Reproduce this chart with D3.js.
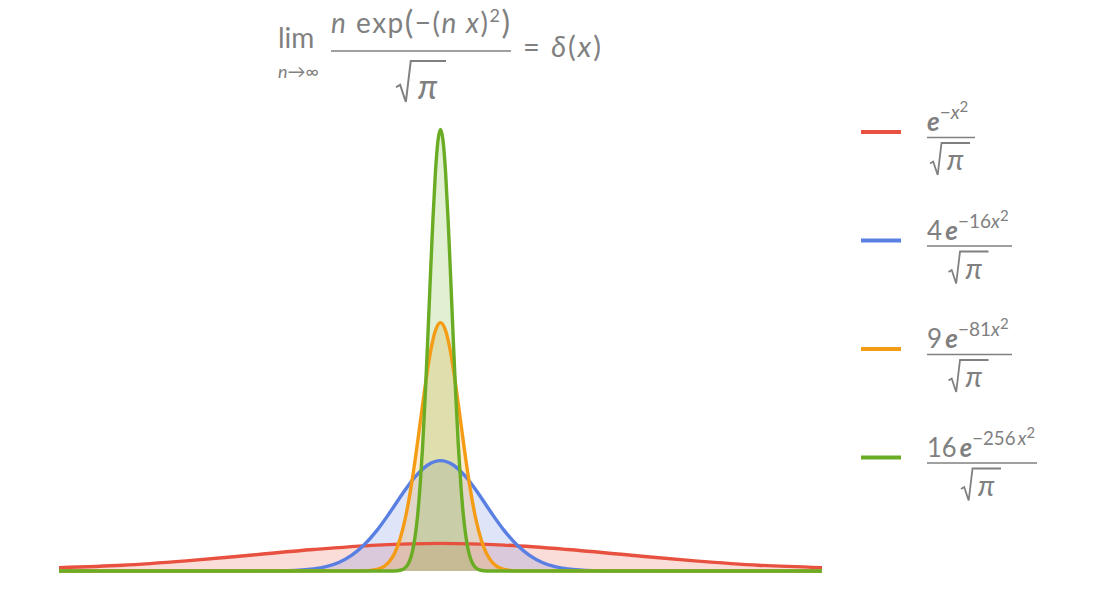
<!DOCTYPE html>
<html>
<head>
<meta charset="utf-8">
<script src="https://cdn.jsdelivr.net/npm/d3@7"></script>
<style>
  body { margin: 0; background: #fff; }
  text { font-family: Lato, "Noto Sans", sans-serif; fill: #808080; }
</style>
</head>
<body>
<svg id="chart" width="1100" height="600"></svg>
<script>
// values: n exp(-(n x)^2)/sqrt(pi) for n = 1, 4, 9, 16 (as labelled)
const xRed = [-1.5, -1.25, -1, -0.75, -0.5, -0.25, 0, 0.25, 0.5, 0.75, 1, 1.25, 1.5];
const yRed = [0.07, 0.118, 0.208, 0.321, 0.439, 0.53, 0.564, 0.53, 0.439, 0.321, 0.208, 0.118, 0.07];

const xBlue = [-1.5, -0.7, -0.6, -0.5, -0.45, -0.4, -0.35, -0.3, -0.25, -0.2, -0.15, -0.1, -0.05, 0,
  0.05, 0.1, 0.15, 0.2, 0.25, 0.3, 0.35, 0.4, 0.45, 0.5, 0.6, 0.7, 1.5];
const yBlue = [0, 0.001, 0.007, 0.041, 0.088, 0.174, 0.318, 0.535, 0.83, 1.19, 1.575, 1.923, 2.168, 2.257,
  2.168, 1.923, 1.575, 1.19, 0.83, 0.535, 0.318, 0.174, 0.088, 0.041, 0.007, 0.001, 0];

const xOrange = [-1.5, -0.3, -0.25, -0.22, -0.2, -0.18, -0.16, -0.14, -0.12, -0.1, -0.08, -0.06, -0.04, -0.02, 0,
  0.02, 0.04, 0.06, 0.08, 0.1, 0.12, 0.14, 0.16, 0.18, 0.2, 0.22, 0.25, 0.3, 1.5];
const yOrange = [0, 0.003, 0.032, 0.101, 0.199, 0.368, 0.638, 1.038, 1.582, 2.259, 3.024, 3.794, 4.46, 4.916, 5.078,
  4.916, 4.46, 3.794, 3.024, 2.259, 1.582, 1.038, 0.638, 0.368, 0.199, 0.101, 0.032, 0.003, 0];

const xGreen = [-1.5, -0.2, -0.17, -0.15, -0.14, -0.13, -0.12, -0.11, -0.1, -0.09, -0.08, -0.07, -0.06, -0.05, -0.04, -0.03, -0.02, -0.01, 0,
  0.01, 0.02, 0.03, 0.04, 0.05, 0.06, 0.07, 0.08, 0.09, 0.1, 0.11, 0.12, 0.13, 0.14, 0.15, 0.17, 0.2, 1.5];
const yGreen = [0, 0, 0.006, 0.028, 0.06, 0.119, 0.227, 0.408, 0.698, 1.135, 1.754, 2.575, 3.592, 4.76, 5.993, 7.169, 8.149, 8.799, 9.027,
  8.799, 8.149, 7.169, 5.993, 4.76, 3.592, 2.575, 1.754, 1.135, 0.698, 0.408, 0.227, 0.119, 0.06, 0.028, 0.006, 0, 0];

const colors = ["#e8513f", "#5a7fe3", "#f59c16", "#6aad24"];
const coefLabels = ["", "4", "9", "16"];
const expLabels = ["\u2212", "\u221216", "\u221281", "\u2212256\u2009"];

const series = [
  { x: xRed, y: yRed },
  { x: xBlue, y: yBlue },
  { x: xOrange, y: yOrange },
  { x: xGreen, y: yGreen }
];

const svg = d3.select("#chart");

const xScale = d3.scaleLinear().domain([-1.5, 1.5]).range([59, 822]);
const yScale = d3.scaleLinear().domain([0, d3.max(yGreen)]).range([571, 129.5]);

const area = d3.area()
  .x(d => xScale(d[0]))
  .y0(yScale(0))
  .y1(d => yScale(d[1]))
  .curve(d3.curveMonotoneX);

const line = d3.line()
  .x(d => xScale(d[0]))
  .y(d => yScale(d[1]))
  .curve(d3.curveMonotoneX);

const plot = svg.append("g");

// fillings to the axis first
series.forEach((s, i) => {
  const pts = s.x.map((x, j) => [x, s.y[j]]);
  plot.append("path")
    .attr("d", area(pts))
    .attr("fill", colors[i])
    .attr("fill-opacity", 0.2);
});

series.forEach((s, i) => {
  const pts = s.x.map((x, j) => [x, s.y[j]]);
  plot.append("path")
    .attr("d", line(pts))
    .attr("fill", "none")
    .attr("stroke", colors[i])
    .attr("stroke-width", 3.4)
    .attr("stroke-linejoin", "round");
});

// radical sign drawn as a path
function radical(g, left, top, bottom, right, sw) {
  const h = bottom - top;
  g.append("path")
    .attr("d", `M${left},${bottom - 0.36 * h} L${left + h * 0.1},${bottom - 0.42 * h}` +
      ` L${left + h * 0.24},${bottom} L${left + h * 0.36},${top} L${right},${top}`)
    .attr("fill", "none")
    .attr("stroke", "#808080")
    .attr("stroke-width", sw)
    .attr("stroke-linejoin", "miter");
}

// title
const title = svg.append("g");
title.append("text").attr("x", 278).attr("y", 48).attr("font-size", 28).text("lim");
const sub = title.append("text").attr("x", 278).attr("y", 78).attr("font-size", 18);
sub.append("tspan").attr("font-style", "italic").text("n");
sub.append("tspan").text("\u2192\u221e");

const num = title.append("text").attr("x", 331).attr("y", 33).attr("font-size", 28)
  .attr("textLength", 179).attr("lengthAdjust", "spacing");
num.append("tspan").attr("font-style", "italic").text("n");
num.append("tspan").text(" exp");
num.append("tspan").attr("font-size", 32).attr("dy", 1).text("(");
num.append("tspan").attr("dy", -1).text("\u2212(");
num.append("tspan").attr("font-style", "italic").text("n x");
num.append("tspan").text(")");
num.append("tspan").attr("font-size", 18).attr("dy", -11).text("2");
num.append("tspan").attr("font-size", 32).attr("dy", 12).text(")");

title.append("line").attr("x1", 331).attr("x2", 511).attr("y1", 51).attr("y2", 51)
  .attr("stroke", "#808080").attr("stroke-width", 1.7);
radical(title, 396, 61, 102, 446, 2);
title.append("text").attr("x", 418).attr("y", 99).attr("font-size", 34)
  .attr("font-style", "italic").text("\u03c0");

const rhs = title.append("text").attr("x", 523).attr("y", 57).attr("font-size", 29)
  .attr("textLength", 78).attr("lengthAdjust", "spacing");
rhs.append("tspan").text("= ");
rhs.append("tspan").attr("font-style", "italic").text("\u03b4");
rhs.append("tspan").text("(");
rhs.append("tspan").attr("font-style", "italic").text("x");
rhs.append("tspan").text(")");

// legend
const legendY = [132, 240.5, 349, 457.5];
const legendRight = [975, 1012, 1012, 1037];
const legend = svg.append("g");
legendY.forEach((cy, i) => {
  legend.append("line")
    .attr("x1", 861).attr("x2", 901).attr("y1", cy).attr("y2", cy)
    .attr("stroke", colors[i]).attr("stroke-width", 3.8);

  const t = legend.append("text").attr("x", 927).attr("y", cy - 1).attr("font-size", 26);
  if (coefLabels[i]) t.append("tspan").text(coefLabels[i] + "\u2009");
  t.append("tspan").attr("font-style", "italic").attr("font-weight", "bold").text("e");
  t.append("tspan").attr("font-size", 19).attr("dy", -12).text(expLabels[i]);
  t.append("tspan").attr("font-size", 19).attr("font-style", "italic").text("x");
  t.append("tspan").attr("font-size", 15).attr("dy", -7).text("2");

  const right = legendRight[i];
  const w = t.node().getComputedTextLength();
  if (w > right - 929) t.attr("textLength", right - 929).attr("lengthAdjust", "spacingAndGlyphs");

  legend.append("line")
    .attr("x1", 927).attr("x2", right).attr("y1", cy + 5.5).attr("y2", cy + 5.5)
    .attr("stroke", "#808080").attr("stroke-width", 1.7);

  const mid = (927 + right) / 2;
  radical(legend, mid - 21, cy + 11, cy + 43, mid + 19, 1.8);
  legend.append("text").attr("x", mid - 4).attr("y", cy + 38).attr("font-size", 29)
    .attr("font-style", "italic").text("\u03c0");
});
</script>
</body>
</html>
